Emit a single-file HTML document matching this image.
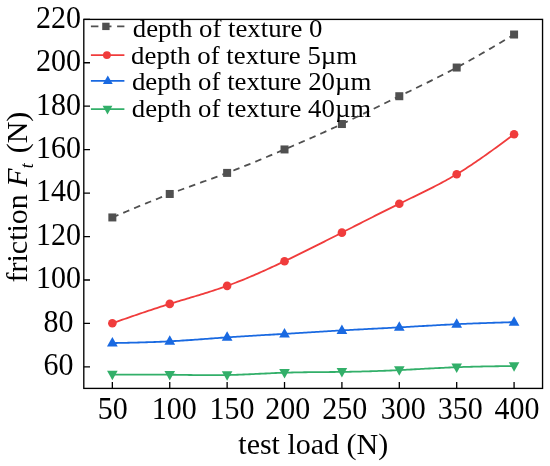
<!DOCTYPE html>
<html><head><meta charset="utf-8"><style>
html,body{margin:0;padding:0;background:#fff;}
svg{display:block;}
text{font-family:"Liberation Serif","Times New Roman",serif;fill:#000;}
</style></head><body>
<svg width="550" height="466" viewBox="0 0 550 466">
<rect width="550" height="466" fill="#fff"/>

<rect x="83.80" y="19.40" width="458.75" height="369.00" fill="none" stroke="#000" stroke-width="1.35"/>
<path d="M83.80 366.90H90.00M83.80 323.45H90.00M83.80 280.00H90.00M83.80 236.56H90.00M83.80 193.11H90.00M83.80 149.66H90.00M83.80 106.21H90.00M83.80 62.76H90.00M83.80 19.32H90.00M112.35 388.40V381.90M169.74 388.40V381.90M227.13 388.40V381.90M284.52 388.40V381.90M341.91 388.40V381.90M399.30 388.40V381.90M456.69 388.40V381.90M514.08 388.40V381.90" stroke="#000" stroke-width="1.3" fill="none"/>
<polyline points="112.35,217.44 114.37,216.59 116.39,215.73 118.41,214.88 120.42,214.03 122.44,213.18 124.46,212.33 126.48,211.48 128.50,210.63 130.52,209.79 132.54,208.94 134.56,208.10 136.57,207.26 138.59,206.43 140.61,205.59 142.63,204.76 144.65,203.93 146.67,203.11 148.69,202.29 150.71,201.47 152.72,200.65 154.74,199.84 156.76,199.04 158.78,198.24 160.80,197.44 162.82,196.65 164.84,195.86 166.86,195.08 168.87,194.31 170.89,193.54 172.91,192.77 174.93,192.02 176.95,191.26 178.97,190.51 180.99,189.77 183.01,189.02 185.02,188.29 187.04,187.55 189.06,186.82 191.08,186.08 193.10,185.35 195.12,184.63 197.14,183.90 199.16,183.17 201.17,182.44 203.19,181.71 205.21,180.99 207.23,180.25 209.25,179.52 211.27,178.79 213.29,178.05 215.31,177.31 217.32,176.57 219.34,175.82 221.36,175.07 223.38,174.32 225.40,173.56 227.42,172.80 229.44,172.02 231.46,171.25 233.47,170.47 235.49,169.68 237.51,168.89 239.53,168.09 241.55,167.29 243.57,166.49 245.59,165.68 247.61,164.86 249.62,164.05 251.64,163.23 253.66,162.40 255.68,161.57 257.70,160.74 259.72,159.90 261.74,159.07 263.76,158.22 265.77,157.38 267.79,156.53 269.81,155.69 271.83,154.83 273.85,153.98 275.87,153.13 277.89,152.27 279.91,151.41 281.92,150.55 283.94,149.69 285.96,148.83 287.98,147.96 290.00,147.10 292.02,146.23 294.04,145.36 296.06,144.49 298.07,143.62 300.09,142.75 302.11,141.88 304.13,141.00 306.15,140.12 308.17,139.24 310.19,138.35 312.21,137.46 314.22,136.57 316.24,135.68 318.26,134.79 320.28,133.89 322.30,132.98 324.32,132.08 326.34,131.17 328.36,130.26 330.37,129.34 332.39,128.42 334.41,127.50 336.43,126.57 338.45,125.63 340.47,124.70 342.49,123.76 344.51,122.81 346.52,121.86 348.54,120.91 350.56,119.95 352.58,118.99 354.60,118.02 356.62,117.05 358.64,116.08 360.66,115.11 362.67,114.13 364.69,113.15 366.71,112.17 368.73,111.18 370.75,110.20 372.77,109.21 374.79,108.23 376.81,107.24 378.82,106.25 380.84,105.26 382.86,104.27 384.88,103.28 386.90,102.29 388.92,101.30 390.94,100.31 392.96,99.32 394.97,98.33 396.99,97.34 399.01,96.36 401.03,95.38 403.05,94.39 405.07,93.41 407.09,92.43 409.11,91.45 411.12,90.47 413.14,89.49 415.16,88.51 417.18,87.53 419.20,86.54 421.22,85.55 423.24,84.57 425.26,83.58 427.27,82.58 429.29,81.58 431.31,80.58 433.33,79.58 435.35,78.57 437.37,77.56 439.39,76.54 441.41,75.51 443.42,74.48 445.44,73.45 447.46,72.40 449.48,71.35 451.50,70.30 453.52,69.23 455.54,68.16 457.56,67.08 459.57,65.99 461.59,64.89 463.61,63.79 465.63,62.68 467.65,61.56 469.67,60.43 471.69,59.30 473.71,58.16 475.72,57.01 477.74,55.86 479.76,54.71 481.78,53.55 483.80,52.38 485.82,51.21 487.84,50.04 489.86,48.86 491.87,47.68 493.89,46.49 495.91,45.30 497.93,44.11 499.95,42.92 501.97,41.72 503.99,40.53 506.01,39.33 508.02,38.13 510.04,36.93 512.06,35.72 514.08,34.52" fill="none" stroke="#505050" stroke-width="1.8" stroke-dasharray="6.6 5.2"/>
<rect x="108.35" y="213.44" width="8.00" height="8.00" fill="#505050"/>
<rect x="165.74" y="189.98" width="8.00" height="8.00" fill="#505050"/>
<rect x="223.13" y="168.90" width="8.00" height="8.00" fill="#505050"/>
<rect x="280.52" y="145.44" width="8.00" height="8.00" fill="#505050"/>
<rect x="337.91" y="120.03" width="8.00" height="8.00" fill="#505050"/>
<rect x="395.30" y="92.22" width="8.00" height="8.00" fill="#505050"/>
<rect x="452.69" y="63.54" width="8.00" height="8.00" fill="#505050"/>
<rect x="510.08" y="30.52" width="8.00" height="8.00" fill="#505050"/>
<polyline points="112.35,323.23 114.37,322.53 116.39,321.82 118.41,321.12 120.42,320.41 122.44,319.71 124.46,319.00 126.48,318.30 128.50,317.60 130.52,316.90 132.54,316.20 134.56,315.51 136.57,314.81 138.59,314.12 140.61,313.43 142.63,312.75 144.65,312.06 146.67,311.38 148.69,310.71 150.71,310.03 152.72,309.36 154.74,308.70 156.76,308.04 158.78,307.38 160.80,306.73 162.82,306.08 164.84,305.44 166.86,304.80 168.87,304.17 170.89,303.54 172.91,302.92 174.93,302.30 176.95,301.69 178.97,301.08 180.99,300.48 183.01,299.87 185.02,299.27 187.04,298.66 189.06,298.06 191.08,297.46 193.10,296.85 195.12,296.25 197.14,295.64 199.16,295.03 201.17,294.41 203.19,293.79 205.21,293.16 207.23,292.53 209.25,291.90 211.27,291.25 213.29,290.60 215.31,289.94 217.32,289.27 219.34,288.59 221.36,287.90 223.38,287.20 225.40,286.49 227.42,285.77 229.44,285.03 231.46,284.28 233.47,283.52 235.49,282.75 237.51,281.96 239.53,281.17 241.55,280.36 243.57,279.55 245.59,278.72 247.61,277.88 249.62,277.04 251.64,276.18 253.66,275.32 255.68,274.44 257.70,273.56 259.72,272.67 261.74,271.78 263.76,270.87 265.77,269.96 267.79,269.04 269.81,268.12 271.83,267.19 273.85,266.25 275.87,265.31 277.89,264.36 279.91,263.41 281.92,262.45 283.94,261.49 285.96,260.52 287.98,259.55 290.00,258.58 292.02,257.60 294.04,256.62 296.06,255.64 298.07,254.65 300.09,253.66 302.11,252.67 304.13,251.67 306.15,250.68 308.17,249.67 310.19,248.67 312.21,247.66 314.22,246.65 316.24,245.64 318.26,244.63 320.28,243.62 322.30,242.60 324.32,241.58 326.34,240.56 328.36,239.54 330.37,238.51 332.39,237.49 334.41,236.46 336.43,235.44 338.45,234.41 340.47,233.38 342.49,232.35 344.51,231.32 346.52,230.29 348.54,229.26 350.56,228.23 352.58,227.20 354.60,226.17 356.62,225.14 358.64,224.11 360.66,223.08 362.67,222.05 364.69,221.03 366.71,220.00 368.73,218.98 370.75,217.95 372.77,216.93 374.79,215.91 376.81,214.90 378.82,213.88 380.84,212.87 382.86,211.86 384.88,210.85 386.90,209.85 388.92,208.85 390.94,207.85 392.96,206.86 394.97,205.86 396.99,204.88 399.01,203.89 401.03,202.91 403.05,201.94 405.07,200.96 407.09,199.99 409.11,199.02 411.12,198.05 413.14,197.07 415.16,196.10 417.18,195.12 419.20,194.14 421.22,193.16 423.24,192.17 425.26,191.17 427.27,190.17 429.29,189.15 431.31,188.13 433.33,187.10 435.35,186.06 437.37,185.01 439.39,183.95 441.41,182.87 443.42,181.78 445.44,180.68 447.46,179.55 449.48,178.42 451.50,177.26 453.52,176.09 455.54,174.90 457.56,173.69 459.57,172.45 461.59,171.20 463.61,169.93 465.63,168.65 467.65,167.34 469.67,166.02 471.69,164.68 473.71,163.33 475.72,161.97 477.74,160.59 479.76,159.19 481.78,157.79 483.80,156.37 485.82,154.94 487.84,153.51 489.86,152.06 491.87,150.61 493.89,149.14 495.91,147.67 497.93,146.20 499.95,144.71 501.97,143.23 503.99,141.73 506.01,140.24 508.02,138.74 510.04,137.24 512.06,135.74 514.08,134.24" fill="none" stroke="#F03C3C" stroke-width="1.8"/>
<circle cx="112.35" cy="323.23" r="4.30" fill="#F03C3C"/>
<circle cx="169.74" cy="303.90" r="4.30" fill="#F03C3C"/>
<circle cx="227.13" cy="285.87" r="4.30" fill="#F03C3C"/>
<circle cx="284.52" cy="261.21" r="4.30" fill="#F03C3C"/>
<circle cx="341.91" cy="232.65" r="4.30" fill="#F03C3C"/>
<circle cx="399.30" cy="203.75" r="4.30" fill="#F03C3C"/>
<circle cx="456.69" cy="174.21" r="4.30" fill="#F03C3C"/>
<circle cx="514.08" cy="134.24" r="4.30" fill="#F03C3C"/>
<polyline points="112.35,343.09 114.37,343.05 116.39,343.01 118.41,342.97 120.42,342.93 122.44,342.88 124.46,342.84 126.48,342.80 128.50,342.75 130.52,342.70 132.54,342.65 134.56,342.60 136.57,342.55 138.59,342.50 140.61,342.44 142.63,342.39 144.65,342.33 146.67,342.26 148.69,342.20 150.71,342.13 152.72,342.06 154.74,341.98 156.76,341.90 158.78,341.82 160.80,341.74 162.82,341.65 164.84,341.55 166.86,341.46 168.87,341.35 170.89,341.25 172.91,341.14 174.93,341.02 176.95,340.90 178.97,340.78 180.99,340.65 183.01,340.52 185.02,340.39 187.04,340.26 189.06,340.12 191.08,339.98 193.10,339.83 195.12,339.69 197.14,339.54 199.16,339.40 201.17,339.25 203.19,339.10 205.21,338.95 207.23,338.80 209.25,338.65 211.27,338.50 213.29,338.35 215.31,338.20 217.32,338.05 219.34,337.91 221.36,337.76 223.38,337.62 225.40,337.48 227.42,337.34 229.44,337.20 231.46,337.06 233.47,336.93 235.49,336.80 237.51,336.67 239.53,336.54 241.55,336.41 243.57,336.28 245.59,336.16 247.61,336.04 249.62,335.92 251.64,335.80 253.66,335.68 255.68,335.56 257.70,335.44 259.72,335.32 261.74,335.20 263.76,335.09 265.77,334.97 267.79,334.85 269.81,334.74 271.83,334.62 273.85,334.50 275.87,334.39 277.89,334.27 279.91,334.15 281.92,334.03 283.94,333.91 285.96,333.79 287.98,333.67 290.00,333.55 292.02,333.43 294.04,333.31 296.06,333.18 298.07,333.06 300.09,332.93 302.11,332.81 304.13,332.68 306.15,332.56 308.17,332.43 310.19,332.31 312.21,332.18 314.22,332.06 316.24,331.93 318.26,331.81 320.28,331.68 322.30,331.56 324.32,331.44 326.34,331.32 328.36,331.19 330.37,331.07 332.39,330.95 334.41,330.84 336.43,330.72 338.45,330.60 340.47,330.49 342.49,330.37 344.51,330.26 346.52,330.15 348.54,330.04 350.56,329.93 352.58,329.82 354.60,329.71 356.62,329.60 358.64,329.50 360.66,329.39 362.67,329.29 364.69,329.18 366.71,329.08 368.73,328.97 370.75,328.87 372.77,328.76 374.79,328.66 376.81,328.56 378.82,328.45 380.84,328.35 382.86,328.24 384.88,328.14 386.90,328.03 388.92,327.92 390.94,327.82 392.96,327.71 394.97,327.60 396.99,327.49 399.01,327.38 401.03,327.27 403.05,327.15 405.07,327.04 407.09,326.92 409.11,326.81 411.12,326.69 413.14,326.57 415.16,326.46 417.18,326.34 419.20,326.22 421.22,326.11 423.24,325.99 425.26,325.87 427.27,325.76 429.29,325.64 431.31,325.53 433.33,325.41 435.35,325.30 437.37,325.19 439.39,325.07 441.41,324.97 443.42,324.86 445.44,324.75 447.46,324.65 449.48,324.54 451.50,324.44 453.52,324.34 455.54,324.24 457.56,324.15 459.57,324.06 461.59,323.97 463.61,323.88 465.63,323.79 467.65,323.71 469.67,323.63 471.69,323.55 473.71,323.47 475.72,323.39 477.74,323.32 479.76,323.25 481.78,323.17 483.80,323.10 485.82,323.03 487.84,322.97 489.86,322.90 491.87,322.83 493.89,322.77 495.91,322.70 497.93,322.64 499.95,322.58 501.97,322.51 503.99,322.45 506.01,322.39 508.02,322.33 510.04,322.27 512.06,322.21 514.08,322.15" fill="none" stroke="#1969E1" stroke-width="1.8"/>
<path d="M112.35 337.09L117.70 346.59L107.00 346.59Z" fill="#1969E1"/>
<path d="M169.74 335.31L175.09 344.81L164.39 344.81Z" fill="#1969E1"/>
<path d="M227.13 331.36L232.48 340.86L221.78 340.86Z" fill="#1969E1"/>
<path d="M284.52 327.88L289.87 337.38L279.17 337.38Z" fill="#1969E1"/>
<path d="M341.91 324.40L347.26 333.90L336.56 333.90Z" fill="#1969E1"/>
<path d="M399.30 321.36L404.65 330.86L393.95 330.86Z" fill="#1969E1"/>
<path d="M456.69 318.19L462.04 327.69L451.34 327.69Z" fill="#1969E1"/>
<path d="M514.08 316.15L519.43 325.65L508.73 325.65Z" fill="#1969E1"/>
<polyline points="112.35,374.61 114.37,374.60 116.39,374.60 118.41,374.59 120.42,374.58 122.44,374.58 124.46,374.57 126.48,374.56 128.50,374.56 130.52,374.56 132.54,374.55 134.56,374.55 136.57,374.55 138.59,374.54 140.61,374.54 142.63,374.55 144.65,374.55 146.67,374.55 148.69,374.55 150.71,374.56 152.72,374.57 154.74,374.58 156.76,374.59 158.78,374.60 160.80,374.61 162.82,374.63 164.84,374.65 166.86,374.67 168.87,374.69 170.89,374.71 172.91,374.74 174.93,374.77 176.95,374.80 178.97,374.83 180.99,374.86 183.01,374.89 185.02,374.92 187.04,374.95 189.06,374.98 191.08,375.01 193.10,375.04 195.12,375.07 197.14,375.09 199.16,375.12 201.17,375.14 203.19,375.15 205.21,375.17 207.23,375.18 209.25,375.19 211.27,375.19 213.29,375.19 215.31,375.19 217.32,375.18 219.34,375.16 221.36,375.14 223.38,375.11 225.40,375.08 227.42,375.04 229.44,374.99 231.46,374.94 233.47,374.88 235.49,374.82 237.51,374.75 239.53,374.67 241.55,374.60 243.57,374.51 245.59,374.43 247.61,374.34 249.62,374.25 251.64,374.15 253.66,374.06 255.68,373.96 257.70,373.87 259.72,373.77 261.74,373.67 263.76,373.57 265.77,373.48 267.79,373.38 269.81,373.29 271.83,373.20 273.85,373.11 275.87,373.02 277.89,372.94 279.91,372.86 281.92,372.79 283.94,372.72 285.96,372.65 287.98,372.60 290.00,372.54 292.02,372.49 294.04,372.44 296.06,372.40 298.07,372.36 300.09,372.33 302.11,372.30 304.13,372.27 306.15,372.24 308.17,372.22 310.19,372.20 312.21,372.17 314.22,372.16 316.24,372.14 318.26,372.12 320.28,372.10 322.30,372.09 324.32,372.07 326.34,372.06 328.36,372.04 330.37,372.02 332.39,372.00 334.41,371.99 336.43,371.96 338.45,371.94 340.47,371.92 342.49,371.89 344.51,371.86 346.52,371.83 348.54,371.79 350.56,371.75 352.58,371.71 354.60,371.67 356.62,371.62 358.64,371.58 360.66,371.53 362.67,371.47 364.69,371.42 366.71,371.36 368.73,371.30 370.75,371.24 372.77,371.17 374.79,371.10 376.81,371.03 378.82,370.96 380.84,370.89 382.86,370.81 384.88,370.73 386.90,370.65 388.92,370.56 390.94,370.48 392.96,370.39 394.97,370.30 396.99,370.20 399.01,370.11 401.03,370.01 403.05,369.91 405.07,369.81 407.09,369.70 409.11,369.60 411.12,369.49 413.14,369.38 415.16,369.27 417.18,369.16 419.20,369.05 421.22,368.94 423.24,368.83 425.26,368.72 427.27,368.61 429.29,368.51 431.31,368.40 433.33,368.29 435.35,368.19 437.37,368.08 439.39,367.98 441.41,367.88 443.42,367.78 445.44,367.68 447.46,367.59 449.48,367.50 451.50,367.41 453.52,367.33 455.54,367.25 457.56,367.17 459.57,367.10 461.59,367.03 463.61,366.96 465.63,366.90 467.65,366.84 469.67,366.78 471.69,366.73 473.71,366.68 475.72,366.63 477.74,366.58 479.76,366.54 481.78,366.50 483.80,366.46 485.82,366.42 487.84,366.38 489.86,366.35 491.87,366.32 493.89,366.29 495.91,366.26 497.93,366.23 499.95,366.20 501.97,366.18 503.99,366.15 506.01,366.13 508.02,366.10 510.04,366.08 512.06,366.05 514.08,366.03" fill="none" stroke="#32AF69" stroke-width="1.8"/>
<path d="M112.35 380.31L117.65 370.81L107.05 370.81Z" fill="#32AF69"/>
<path d="M169.74 380.40L175.04 370.90L164.44 370.90Z" fill="#32AF69"/>
<path d="M227.13 380.75L232.43 371.25L221.83 371.25Z" fill="#32AF69"/>
<path d="M284.52 378.40L289.82 368.90L279.22 368.90Z" fill="#32AF69"/>
<path d="M341.91 377.60L347.21 368.10L336.61 368.10Z" fill="#32AF69"/>
<path d="M399.30 375.79L404.60 366.29L394.00 366.29Z" fill="#32AF69"/>
<path d="M456.69 372.90L461.99 363.40L451.39 363.40Z" fill="#32AF69"/>
<path d="M514.08 371.73L519.38 362.23L508.78 362.23Z" fill="#32AF69"/>
<path d="M90.9 26.40H124.4" stroke="#505050" stroke-width="1.8" stroke-dasharray="7.5 5.6"/>
<rect x="102.22" y="22.72" width="7.36" height="7.36" fill="#505050"/>
<text transform="translate(132.80 36.50) scale(1.031 1)" font-size="26">depth of texture 0</text>
<path d="M90.9 55.10H124.4" stroke="#F03C3C" stroke-width="1.8"/>
<circle cx="106.90" cy="55.10" r="3.96" fill="#F03C3C"/>
<text transform="translate(131.10 63.80) scale(1.031 1)" font-size="26">depth of texture 5µm</text>
<path d="M90.9 80.90H124.4" stroke="#1969E1" stroke-width="1.8"/>
<path d="M107.80 75.38L112.72 84.12L102.88 84.12Z" fill="#1969E1"/>
<text transform="translate(131.90 89.80) scale(1.031 1)" font-size="26">depth of texture 20µm</text>
<path d="M90.9 109.20H124.4" stroke="#32AF69" stroke-width="1.8"/>
<path d="M107.50 114.44L112.38 105.70L102.62 105.70Z" fill="#32AF69"/>
<text transform="translate(131.80 117.20) scale(1.031 1)" font-size="26">depth of texture 40µm</text>
<text transform="translate(58.4 375.20) scale(1 1.07)" font-size="30" text-anchor="middle">60</text>
<text transform="translate(58.4 331.75) scale(1 1.07)" font-size="30" text-anchor="middle">80</text>
<text transform="translate(58.4 288.30) scale(1 1.07)" font-size="30" text-anchor="middle">100</text>
<text transform="translate(58.4 244.86) scale(1 1.07)" font-size="30" text-anchor="middle">120</text>
<text transform="translate(58.4 201.41) scale(1 1.07)" font-size="30" text-anchor="middle">140</text>
<text transform="translate(58.4 157.96) scale(1 1.07)" font-size="30" text-anchor="middle">160</text>
<text transform="translate(58.4 114.51) scale(1 1.07)" font-size="30" text-anchor="middle">180</text>
<text transform="translate(58.4 71.06) scale(1 1.07)" font-size="30" text-anchor="middle">200</text>
<text transform="translate(58.4 27.62) scale(1 1.07)" font-size="30" text-anchor="middle">220</text>
<text transform="translate(97.80 419) scale(1 1.04)" font-size="30">50</text>
<text transform="translate(151.70 419) scale(1 1.04)" font-size="30">100</text>
<text transform="translate(209.40 419) scale(1 1.04)" font-size="30">150</text>
<text transform="translate(265.20 419) scale(1 1.04)" font-size="30">200</text>
<text transform="translate(322.20 419) scale(1 1.04)" font-size="30">250</text>
<text transform="translate(380.80 419) scale(1 1.04)" font-size="30">300</text>
<text transform="translate(437.80 419) scale(1 1.04)" font-size="30">350</text>
<text transform="translate(494.50 419) scale(1 1.04)" font-size="30">400</text>
<text x="238.3" y="454.2" font-size="30">test load (N)</text>
<text transform="translate(27.3 282.5) rotate(-90)" font-size="30">friction <tspan font-style="italic">F</tspan><tspan font-size="18" font-style="italic" dy="5.5">t</tspan><tspan dy="-5.5" dx="2.5"> (N)</tspan></text>
</svg></body></html>
